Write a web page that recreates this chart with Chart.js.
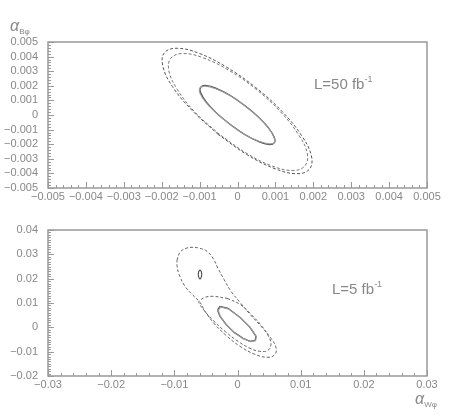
<!DOCTYPE html>
<html>
<head>
<meta charset="UTF-8">
<title>alpha contours</title>
<script src="https://cdn.jsdelivr.net/npm/chart.js"></script>
<style>
  body { margin: 0; background: #fff; font-family: 'Liberation Sans', Arial, sans-serif; }
  .wrap { position: relative; width: 474px; height: 418px; }
  canvas { position: absolute; left: 0; }
  .txt { position: absolute; color: #888; white-space: nowrap; line-height: 1; }
  .lum { font-size: 15px; }
  .lum sup { font-size: 9px; vertical-align: 7px; }
  .alpha { font-size: 16px; font-style: italic; }
  .alpha sub { font-size: 8px; font-style: normal; vertical-align: -3px; }
</style>
</head>
<body>
<div class="wrap">
  <canvas id="top" width="474" height="209" style="top:0"></canvas>
  <canvas id="bot" width="474" height="209" style="top:209px"></canvas>
  <div class="txt alpha" style="left:10px; top:18px">α<sub>Bφ</sub></div>
  <div class="txt lum" style="left:314px; top:75px">L=50 fb<sup>-1</sup></div>
  <div class="txt lum" style="left:332px; top:280px">L=5 fb<sup>-1</sup></div>
  <div class="txt alpha" style="left:415px; top:391px">α<sub>Wφ</sub></div>
</div>
<script>
// --- top panel (L = 50 fb^-1) ---
const topXTicks = [-0.005, -0.004, -0.003, -0.002, -0.001, 0, 0.001, 0.002, 0.003, 0.004, 0.005];
const topYTicks = [-0.005, -0.004, -0.003, -0.002, -0.001, 0, 0.001, 0.002, 0.003, 0.004, 0.005];

const topOuterX = [-0.00051, -0.00120, -0.00172, -0.00197, -0.00193, -0.00159, -0.00102, -0.00029, 0.00048, 0.00118, 0.00169, 0.00195, 0.00190, 0.00157, 0.00099, 0.00026, -0.00051];
const topOuterY = [-0.00133, 0.00032, 0.00196, 0.00335, 0.00426, 0.00457, 0.00423, 0.00328, 0.00188, 0.00023, -0.00141, -0.00280, -0.00371, -0.00402, -0.00368, -0.00273, -0.00133];

const topMidX = [-0.00047, -0.00112, -0.00158, -0.00181, -0.00176, -0.00144, -0.00090, -0.00022, 0.00049, 0.00113, 0.00160, 0.00184, 0.00178, 0.00147, 0.00092, 0.00025, -0.00047];
const topMidY = [-0.00134, 0.00019, 0.00172, 0.00302, 0.00389, 0.00421, 0.00391, 0.00305, 0.00176, 0.00023, -0.00131, -0.00261, -0.00348, -0.00380, -0.00350, -0.00264, -0.00134];

const topInnerX = [-0.00019, -0.00055, -0.00082, -0.00097, -0.00097, -0.00082, -0.00055, -0.00019, 0.00019, 0.00055, 0.00082, 0.00097, 0.00097, 0.00082, 0.00055, 0.00019, -0.00019];
const topInnerY = [-0.00065, 0.00013, 0.00089, 0.00152, 0.00191, 0.00202, 0.00181, 0.00134, 0.00065, -0.00013, -0.00089, -0.00152, -0.00191, -0.00202, -0.00181, -0.00134, -0.00065];

const topInner2X = [-0.00020, -0.00056, -0.00084, -0.00099, -0.00099, -0.00085, -0.00057, -0.00020, 0.00018, 0.00054, 0.00081, 0.00096, 0.00098, 0.00084, 0.00056, 0.00019, -0.00020];
const topInner2Y = [-0.00064, 0.00014, 0.00088, 0.00150, 0.00186, 0.00198, 0.00180, 0.00134, 0.00066, -0.00012, -0.00088, -0.00150, -0.00188, -0.00198, -0.00180, -0.00133, -0.00064];

// --- bottom panel (L = 5 fb^-1) ---
const botXTicks = [-0.03, -0.02, -0.01, 0, 0.01, 0.02, 0.03];
const botYTicks = [-0.02, -0.01, 0, 0.01, 0.02, 0.03, 0.04];

const botOuterX = [-0.00958, -0.00910, -0.00815, -0.00720, -0.00594, -0.00483, -0.00388, -0.00309, -0.00214, -0.00103, 0.00040, 0.00198, 0.00388, 0.00530, 0.00609, 0.00594, 0.00483, 0.00277, 0.00040, -0.00182, -0.00372, -0.00514, -0.00594, -0.00704, -0.00831, -0.00926, -0.00958, -0.00958];
const botOuterY = [0.02754, 0.03083, 0.03247, 0.03288, 0.03247, 0.03124, 0.02836, 0.02425, 0.01973, 0.01480, 0.01028, 0.00534, 0.00000, -0.00452, -0.00822, -0.01110, -0.01233, -0.01110, -0.00781, -0.00329, 0.00164, 0.00658, 0.01028, 0.01315, 0.01685, 0.02178, 0.02548, 0.02754];

const botMidX = [-0.00166, 0.00040, 0.00214, 0.00388, 0.00499, 0.00530, 0.00483, 0.00356, 0.00198, 0.00008, -0.00198, -0.00388, -0.00530, -0.00609, -0.00609, -0.00514, -0.00388, -0.00166];
const botMidY = [0.01192, 0.00945, 0.00534, 0.00041, -0.00411, -0.00699, -0.00945, -0.00986, -0.00863, -0.00575, -0.00164, 0.00288, 0.00699, 0.00986, 0.01069, 0.01233, 0.01274, 0.01192];

const botInnerX = [-0.00309, -0.00277, -0.00150, 0.00040, 0.00198, 0.00293, 0.00277, 0.00198, 0.00087, -0.00055, -0.00182, -0.00277, -0.00309, -0.00309];
const botInnerY = [0.00740, 0.00863, 0.00781, 0.00411, 0.00000, -0.00370, -0.00534, -0.00575, -0.00452, -0.00206, 0.00123, 0.00452, 0.00658, 0.00740];

const botInner2X = [-0.00300, -0.00270, -0.00145, 0.00045, 0.00205, 0.00300, 0.00285, 0.00205, 0.00090, -0.00050, -0.00178, -0.00270, -0.00300, -0.00300];
const botInner2Y = [0.00720, 0.00840, 0.00760, 0.00395, -0.00015, -0.00385, -0.00548, -0.00590, -0.00465, -0.00220, 0.00110, 0.00440, 0.00645, 0.00720];

const botSmallX = [-0.00594, -0.00570, -0.00570, -0.00594, -0.00617, -0.00617, -0.00594];
const botSmallY = [0.02363, 0.02261, 0.02096, 0.01993, 0.02096, 0.02261, 0.02363];

const pts = (xs, ys) => xs.map((x, i) => ({ x, y: ys[i] }));

const dashed = (xs, ys, color) => ({
  data: pts(xs, ys), showLine: true, pointRadius: 0, borderColor: color,
  borderWidth: 1, borderDash: [3, 2], tension: 0.4, fill: false
});
const solid = (xs, ys, color, tension) => ({
  data: pts(xs, ys), showLine: true, pointRadius: 0, borderColor: color,
  borderWidth: 1.2, tension, fill: false
});

// frame + inward ticks, positions taken from the chart's scales
const frameTicks = {
  id: 'frameTicks',
  afterDraw(chart, args, opts) {
    const { ctx, chartArea: a, scales: { x, y } } = chart;
    ctx.save();
    ctx.strokeStyle = '#999';
    ctx.lineWidth = 1;
    const tick = (v, scale, len, isX) => {
      const p = Math.round(scale.getPixelForValue(v)) + 0.5;
      ctx.beginPath();
      if (isX) { ctx.moveTo(p, a.bottom); ctx.lineTo(p, a.bottom - len); }
      else { ctx.moveTo(a.left, p); ctx.lineTo(a.left + len, p); }
      ctx.stroke();
    };
    const doAxis = (ticks, scale, sub, isX) => {
      for (let i = 0; i < ticks.length; i++) {
        tick(ticks[i], scale, 6, isX);
        if (i < ticks.length - 1) {
          const step = (ticks[i + 1] - ticks[i]) / sub;
          for (let k = 1; k < sub; k++) tick(ticks[i] + k * step, scale, 3, isX);
        }
      }
    };
    doAxis(opts.xTicks, x, opts.xSub, true);
    doAxis(opts.yTicks, y, opts.ySub, false);
    ctx.lineWidth = 1.5;
    ctx.strokeRect(a.left, a.top, a.right - a.left, a.bottom - a.top);
    ctx.restore();
  }
};

const fmt = dec => v => v === 0 ? '0' : (v < 0 ? '\u2212' : '') + Math.abs(v).toFixed(dec);

function makeChart(id, datasets, xTicks, yTicks, dec, padTop, xH, xSub, ySub) {
  new Chart(document.getElementById(id), {
    type: 'scatter',
    data: { datasets },
    options: {
      responsive: false,
      animation: false,
      events: [],
      layout: { padding: { top: padTop, right: 47, left: 0, bottom: 0 } },
      plugins: {
        legend: { display: false },
        tooltip: { enabled: false },
        frameTicks: { xTicks, yTicks, xSub, ySub }
      },
      scales: {
        x: {
          type: 'linear', min: xTicks[0], max: xTicks[xTicks.length - 1],
          grid: { display: false, drawTicks: false }, border: { display: false },
          afterBuildTicks: s => { s.ticks = xTicks.map(v => ({ value: v })); },
          afterFit: s => { s.height = xH; },
          ticks: { callback: fmt(dec), color: '#888', padding: 2, maxRotation: 0, autoSkip: false,
                   font: { family: 'Liberation Sans', size: 11 } }
        },
        y: {
          type: 'linear', min: yTicks[0], max: yTicks[yTicks.length - 1],
          grid: { display: false, drawTicks: false }, border: { display: false },
          afterBuildTicks: s => { s.ticks = yTicks.map(v => ({ value: v })); },
          afterFit: s => { s.width = 48; },
          ticks: { callback: fmt(dec), color: '#888', padding: 10, autoSkip: false,
                   font: { family: 'Liberation Sans', size: 11 } }
        }
      }
    },
    plugins: [frameTicks]
  });
}

makeChart('top', [
  dashed(topOuterX, topOuterY, '#555'),
  dashed(topMidX, topMidY, '#777'),
  solid(topInner2X, topInner2Y, '#999', 0.4),
  solid(topInnerX, topInnerY, '#444', 0.4)
], topXTicks, topYTicks, 3, 42, 21, 5, 5);

makeChart('bot', [
  dashed(botOuterX, botOuterY, '#666'),
  dashed(botMidX, botMidY, '#666'),
  solid(botInner2X, botInner2Y, '#999', 0),
  solid(botInnerX, botInnerY, '#444', 0),
  solid(botSmallX, botSmallY, '#555', 0.4)
], botXTicks, botYTicks, 2, 21, 42, 5, 10);
</script>
</body>
</html>
